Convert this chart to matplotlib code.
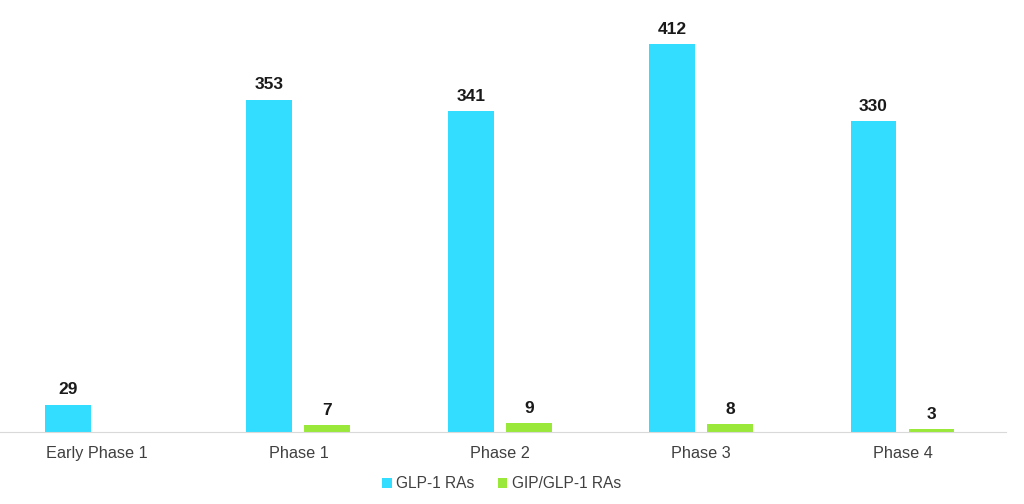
"""
Clinical trials by phase: GLP-1 RAs vs GIP/GLP-1 RAs
"""

import matplotlib.pyplot as plt
import numpy as np

plt.rcParams['font.family'] = ['Liberation Sans', 'DejaVu Sans']

categories = ['Early Phase 1', 'Phase 1', 'Phase 2', 'Phase 3', 'Phase 4']
glp1 = [29, 353, 341, 412, 330]
gip_glp1 = [None, 7, 9, 8, 3]

c_glp1 = '#33DDFF'
c_gip = '#9AE83A'

fig = plt.figure(figsize=(10.24, 5.04), dpi=100)
ax = fig.add_axes([0.0, 0.143, 0.982, 0.84])

x = np.arange(len(categories))
width = 0.228
off = 0.144

g2 = [v if v is not None else 0 for v in gip_glp1]
b1 = ax.bar(x - off, glp1, width, color=c_glp1, label='GLP-1 RAs')
b2 = ax.bar(x + off, g2, width, color=c_gip, label='GIP/GLP-1 RAs')

for xi, v in zip(x, glp1):
    ax.text(xi - off, v + 8, str(v), ha='center', va='bottom',
            fontsize=12.5, fontweight='bold', color='#1a1a1a')
for xi, v in zip(x, gip_glp1):
    if v is None:
        continue
    ax.text(xi + off, v + 8, str(v), ha='center', va='bottom',
            fontsize=12.5, fontweight='bold', color='#1a1a1a')

ax.set_xlim(-0.482, 4.512)
ax.set_ylim(0, 450)
ax.set_xticks(x)
ax.set_xticklabels(categories, fontsize=11.7, color='#404040')
ax.tick_params(axis='x', length=0, pad=10)
ax.set_yticks([])
for s in ['top', 'right', 'left']:
    ax.spines[s].set_visible(False)
ax.spines['bottom'].set_color('#d9d9d9')

fig.legend(handles=[b1, b2], loc='center', bbox_to_anchor=(0.49, 0.04),
           ncol=2, frameon=False, fontsize=11.2, handlelength=0.6,
           handleheight=0.6, handletextpad=0.3, columnspacing=1.5,
           labelcolor='#404040')

plt.savefig('out.png')
